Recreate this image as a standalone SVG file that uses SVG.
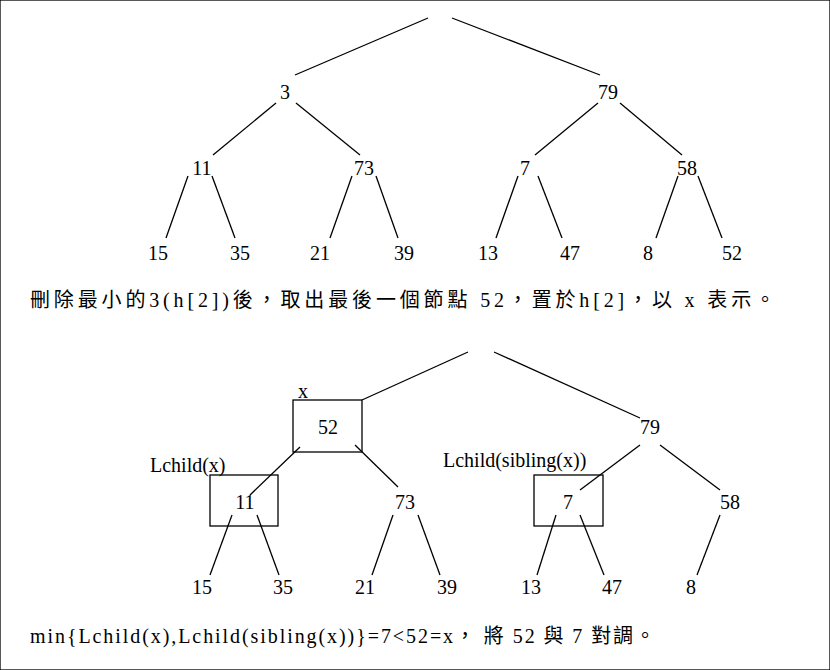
<svg xmlns="http://www.w3.org/2000/svg" width="830" height="670" viewBox="0 0 830 670">
<style>
text{font-family:"Liberation Serif","Noto Sans CJK TC",serif;font-size:20px;fill:#000}
.n{text-anchor:middle}
line,rect{stroke:#000;stroke-width:1.3;fill:none}
</style>
<rect x="0" y="0" width="830" height="670" fill="#fff" stroke="none"/>
<g id="connectors">
<line x1="428" y1="18" x2="295" y2="75"/><line x1="452" y1="18" x2="600" y2="75"/>
<line x1="276" y1="103" x2="213" y2="155"/><line x1="296" y1="103" x2="360" y2="155"/>
<line x1="598" y1="103" x2="535" y2="155"/><line x1="620" y1="103" x2="682" y2="155"/>
<line x1="188" y1="176" x2="166" y2="238"/><line x1="212" y1="176" x2="235" y2="238"/>
<line x1="352" y1="176" x2="330" y2="238"/><line x1="376" y1="176" x2="398" y2="238"/>
<line x1="518" y1="176" x2="496" y2="238"/><line x1="538" y1="176" x2="562" y2="238"/>
<line x1="678" y1="176" x2="656" y2="238"/><line x1="698" y1="176" x2="722" y2="238"/>
<line x1="468" y1="352" x2="362" y2="400"/><line x1="494" y1="352" x2="640" y2="418"/>
<line x1="300" y1="447" x2="250" y2="495"/><line x1="355" y1="445" x2="398" y2="487"/>
<line x1="640" y1="445" x2="580" y2="490"/><line x1="660" y1="445" x2="720" y2="490"/>
<line x1="232" y1="515" x2="210" y2="575"/><line x1="257" y1="515" x2="279" y2="575"/>
<line x1="393" y1="515" x2="372" y2="575"/><line x1="418" y1="515" x2="440" y2="575"/>
<line x1="556" y1="515" x2="537" y2="575"/><line x1="580" y1="515" x2="604" y2="575"/>
<line x1="720" y1="515" x2="697" y2="575"/>
</g>
<g id="top">
<g id="t3"><text class="n" x="285" y="99">3</text></g>
<g id="t79"><text class="n" x="608" y="99">79</text></g>
<g id="t11"><text class="n" x="202" y="175">11</text></g>
<g id="t73"><text class="n" x="364" y="175">73</text></g>
<g id="t7"><text class="n" x="525" y="175">7</text></g>
<g id="t58"><text class="n" x="687" y="175">58</text></g>
<g id="t15"><text class="n" x="158" y="260">15</text></g>
<g id="t35"><text class="n" x="240" y="260">35</text></g>
<g id="t21"><text class="n" x="320" y="260">21</text></g>
<g id="t39"><text class="n" x="404" y="260">39</text></g>
<g id="t13"><text class="n" x="488" y="260">13</text></g>
<g id="t47"><text class="n" x="570" y="260">47</text></g>
<g id="t8"><text class="n" x="648" y="260">8</text></g>
<g id="t52"><text class="n" x="732" y="260">52</text></g>
</g>
<text x="30" y="307" textLength="745" lengthAdjust="spacing">刪除最小的3(h[2])後，取出最後一個節點 52，置於h[2]，以 x 表示。</text>
<g id="bottom">
<text x="298" y="398">x</text>
<g id="b52"><rect x="293" y="400" width="69" height="52"/><text class="n" x="328" y="434">52</text></g>
<g id="b79"><text class="n" x="650" y="434">79</text></g>
<text x="150" y="472">Lchild(x)</text>
<g id="b11"><rect x="210" y="475" width="68" height="51"/><text class="n" x="245" y="509">11</text></g>
<g id="b73"><text class="n" x="405" y="509">73</text></g>
<text x="443" y="467">Lchild(sibling(x))</text>
<g id="b7"><rect x="534" y="475" width="69" height="51"/><text class="n" x="568" y="509">7</text></g>
<g id="b58"><text class="n" x="730" y="509">58</text></g>
<g id="b15"><text class="n" x="202" y="594">15</text></g>
<g id="b35"><text class="n" x="283" y="594">35</text></g>
<g id="b21"><text class="n" x="365" y="594">21</text></g>
<g id="b39"><text class="n" x="447" y="594">39</text></g>
<g id="b13"><text class="n" x="531" y="594">13</text></g>
<g id="b47"><text class="n" x="612" y="594">47</text></g>
<g id="b8"><text class="n" x="691" y="594">8</text></g>
</g>
<text x="30" y="643" textLength="625" lengthAdjust="spacing">min{Lchild(x),Lchild(sibling(x))}=7&lt;52=x，  將 52 與 7 對調。</text>
</svg>
